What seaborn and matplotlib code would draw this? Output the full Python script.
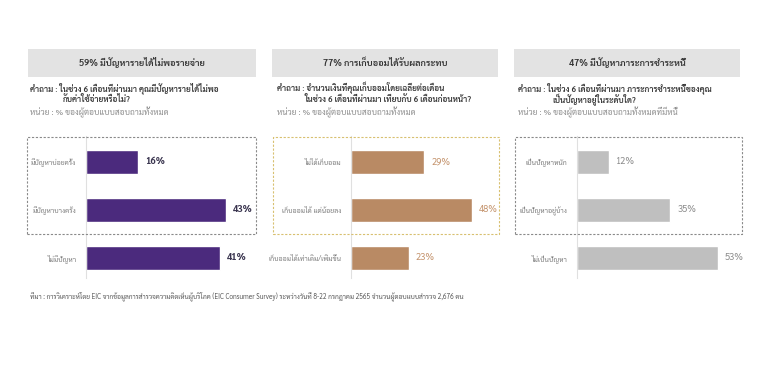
import matplotlib
matplotlib.use("Agg")
import matplotlib.pyplot as plt
from matplotlib.patches import Rectangle
import pandas as pd
import seaborn as sns

# ── Data ──────────────────────────────────────────────────────────────────────
titles = [
    "59% มีปัญหารายได้ไม่พอรายจ่าย",
    "77% การเก็บออมได้รับผลกระทบ",
    "47% มีปัญหาภาระการชำระหนี้",
]
questions = [
    ("คำถาม : ในช่วง 6 เดือนที่ผ่านมา คุณมีปัญหารายได้ไม่พอ", "กับค่าใช้จ่ายหรือไม่?"),
    ("คำถาม : จำนวนเงินที่คุณเก็บออมโดยเฉลี่ยต่อเดือน", "ในช่วง 6 เดือนที่ผ่านมา เทียบกับ 6 เดือนก่อนหน้า?"),
    ("คำถาม : ในช่วง 6 เดือนที่ผ่านมา ภาระการชำระหนี้ของคุณ", "เป็นปัญหาอยู่ในระดับใด?"),
]
units = [
    "หน่วย : % ของผู้ตอบแบบสอบถามทั้งหมด",
    "หน่วย : % ของผู้ตอบแบบสอบถามทั้งหมด",
    "หน่วย : % ของผู้ตอบแบบสอบถามทั้งหมดที่มีหนี้",
]
income_cats = ["มีปัญหาบ่อยครั้ง", "มีปัญหาบางครั้ง", "ไม่มีปัญหา"]
income_vals = [16, 43, 41]
saving_cats = ["ไม่ได้เก็บออม", "เก็บออมได้ แต่น้อยลง", "เก็บออมได้เท่าเดิม/เพิ่มขึ้น"]
saving_vals = [29, 48, 23]
debt_cats = ["เป็นปัญหาหนัก", "เป็นปัญหาอยู่บ้าง", "ไม่เป็นปัญหา"]
debt_vals = [12, 35, 53]
source = ("ที่มา : การวิเคราะห์โดย EIC จากข้อมูลการสำรวจความคิดเห็นผู้บริโภค (EIC Consumer Survey) "
          "ระหว่างวันที่ 8-22 กรกฎาคม 2565 จำนวนผู้ตอบแบบสำรวจ 2,676 คน")

# ── Style ─────────────────────────────────────────────────────────────────────
sns.set_theme(style="white")
plt.rcParams["font.family"] = ["Sarabun", "Noto Sans Thai Looped", "DejaVu Sans"]

W, H = 768, 386
fig = plt.figure(figsize=(W / 100, H / 100), dpi=100)


def fx(x):
    return x / W


def fy(y):
    return 1 - y / H


panels = [
    dict(cats=income_cats, vals=income_vals, color="#4b2a7d", val_color="#3b3650", bold=True,
         hdr=(28, 256), txt_x=30, indent=63, axis_x=86, ppp=3.26, ax_w=160,
         box=(27, 256), box_color="#8a8a8a"),
    dict(cats=saving_cats, vals=saving_vals, color="#b98a64", val_color="#c4936c", bold=False,
         hdr=(272, 498), txt_x=277, indent=305, axis_x=351, ppp=2.52, ax_w=140,
         box=(273, 499), box_color="#d8c070"),
    dict(cats=debt_cats, vals=debt_vals, color="#bfbfbf", val_color="#8c8c8c", bold=False,
         hdr=(514, 740), txt_x=518, indent=552, axis_x=577, ppp=2.66, ax_w=150,
         box=(515, 742), box_color="#8a8a8a"),
]

# bar layout (pixels)
bar_top_center, bar_step = 162, 48
ax_top, ax_bot = 136, 278
box_top, box_bot = 137, 234

for i, p in enumerate(panels):
    # header band
    x0, x1 = p["hdr"]
    fig.patches.append(Rectangle((fx(x0), fy(77)), fx(x1 - x0), (77 - 49) / H,
                                 transform=fig.transFigure, facecolor="#e3e3e3",
                                 edgecolor="none", zorder=0))
    fig.text(fx((x0 + x1) / 2), fy(63), titles[i], ha="center", va="center",
             fontsize=6.6, fontweight="semibold", color="#333333")
    fig.text(fx(p["txt_x"]), fy(88), questions[i][0], ha="left", va="center",
             fontsize=5.9, fontweight="semibold", color="#333333")
    fig.text(fx(p["indent"]), fy(100), questions[i][1], ha="left", va="center",
             fontsize=5.9, fontweight="semibold", color="#333333")
    fig.text(fx(p["txt_x"]), fy(112), units[i], ha="left", va="center",
             fontsize=6, color="#8c8c8c")

    # dashed highlight box around first two bars
    bx0, bx1 = p["box"]
    fig.patches.append(Rectangle((fx(bx0), fy(box_bot)), fx(bx1 - bx0), (box_bot - box_top) / H,
                                 transform=fig.transFigure, facecolor="none",
                                 edgecolor=p["box_color"], linestyle=(0, (2, 1.5)),
                                 linewidth=0.8, zorder=1))

    # bar axes
    ax = fig.add_axes([fx(p["axis_x"]), fy(ax_bot), fx(p["ax_w"]), (ax_bot - ax_top) / H])
    df = pd.DataFrame({"cat": p["cats"], "val": p["vals"]})
    sns.barplot(data=df, x="val", y="cat", orient="h", color=p["color"],
                width=0.48, saturation=1, ax=ax)
    a_top = (bar_top_center - ax_top) / bar_step
    a_bot = (ax_bot - (bar_top_center + 2 * bar_step)) / bar_step
    ax.set_ylim(2 + a_bot, -a_top)
    ax.set_xlim(0, p["ax_w"] / p["ppp"])
    ax.set_facecolor("none")
    ax.set_xlabel("")
    ax.set_ylabel("")
    ax.set_xticks([])
    for side in ["top", "right", "bottom"]:
        ax.spines[side].set_visible(False)
    ax.spines["left"].set_color("#e0e0e0")
    ax.spines["left"].set_linewidth(0.8)
    ax.tick_params(axis="y", length=0, pad=7, labelsize=5, labelcolor="#7a7a7a")
    for j, v in enumerate(p["vals"]):
        ax.text(v + 7 / p["ppp"], j, f"{v}%", ha="left", va="center", fontsize=6.8,
                color=p["val_color"], fontweight="bold" if p["bold"] else "normal")

fig.text(fx(30), fy(296), source, ha="left", va="center", fontsize=4.8, color="#555555")

fig.savefig("out.png", dpi=100)
